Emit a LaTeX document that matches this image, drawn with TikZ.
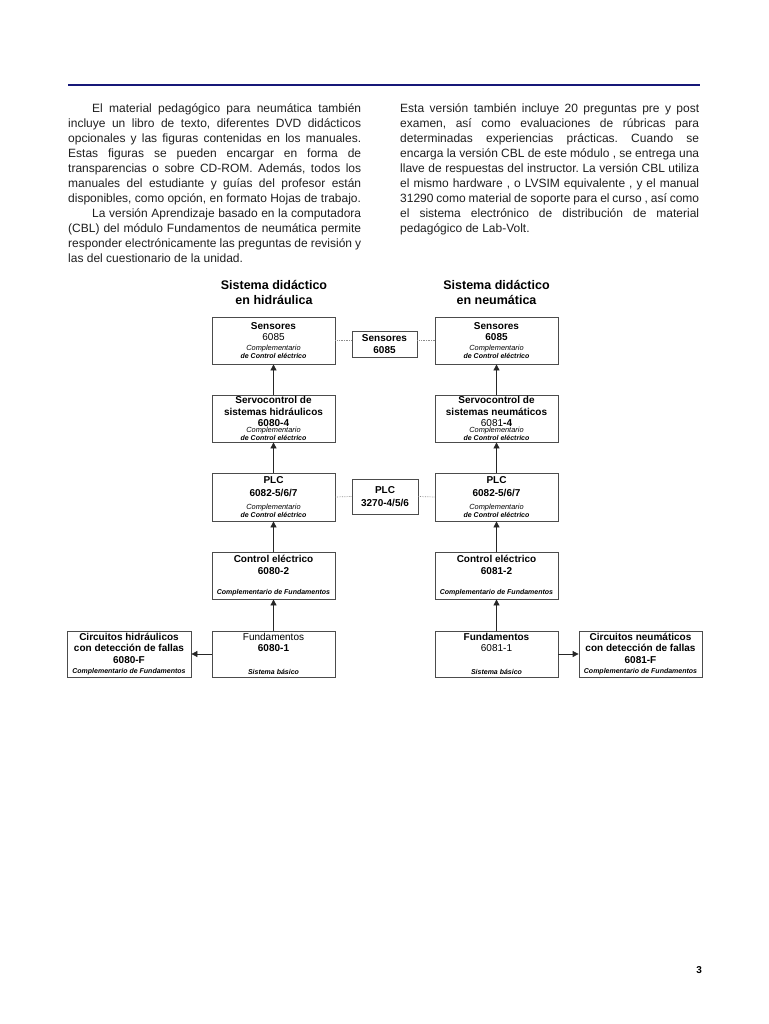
\documentclass[tikz,border=0pt]{standalone}
\usepackage{fontspec}
\setmainfont{Liberation Sans}
\usetikzlibrary{arrows.meta}
\definecolor{rulenavy}{RGB}{22,24,120}
\frenchspacing
\newcommand{\compl}{\fontsize{7.4}{8}\selectfont\mdseries\itshape}
\newcommand{\complb}{\fontsize{7}{8}\selectfont\bfseries\itshape}

\begin{document}
\begin{tikzpicture}[x=1pt, y=-1pt]
    \tikzstyle{box} = [draw=black!70, line width=0.8pt, inner sep=0pt, align=center, minimum width=123pt, minimum height=47pt, font=\fontsize{10}{11.5}\selectfont\bfseries]
    \tikzstyle{mid} = [box, minimum width=65pt, minimum height=26pt]
    \tikzstyle{title} = [anchor=north, inner sep=0pt, align=center, font=\fontsize{12.5}{15}\selectfont\bfseries]
    \tikzstyle{para} = [anchor=base west, inner sep=0pt, align=justify, text=black!88, font=\fontsize{12}{15}\selectfont\frenchspacing]
    \tikzstyle{up} = [draw=black!85, line width=0.8pt, -{Triangle[length=6pt, width=6pt]}]
    \tikzstyle{dots} = [draw=black!45, line width=0.7pt, densely dotted]

    \useasboundingbox (0,0) rectangle (768,1024);

    \coordinate (rl) at (68,85);
    \coordinate (rr) at (700,85);
    \draw [rulenavy, line width=1.6pt] (rl) -- (rr);

    \node (parl) [para, text width=293pt] at (68,113) {%
        \hspace*{24pt}El material pedagógico para neumática también\linebreak
        incluye un libro de texto, diferentes DVD didácticos\linebreak
        opcionales y las figuras contenidas en los manuales.\linebreak
        Estas figuras se pueden encargar en forma de\linebreak
        transparencias o sobre CD-ROM. Además, todos los\linebreak
        manuales del estudiante y guías del profesor están\linebreak
        disponibles, como opción, en formato Hojas de trabajo.\par
        \hspace*{24pt}La versión Aprendizaje basado en la computadora\linebreak
        (CBL) del módulo Fundamentos de neumática permite\linebreak
        responder electrónicamente las preguntas de revisión y\linebreak
        las del cuestionario de la unidad.};
    \node (parr) [para, text width=299pt] at (400,113) {%
        Esta versión también incluye 20 preguntas pre y post\linebreak
        examen, así como evaluaciones de rúbricas para\linebreak
        determinadas experiencias prácticas. Cuando se\linebreak
        encarga la versión CBL de este módulo , se entrega una\linebreak
        llave de respuestas del instructor. La versión CBL utiliza\linebreak
        el mismo hardware , o LVSIM equivalente , y el manual\linebreak
        31290 como material de soporte para el curso , así como\linebreak
        el sistema electrónico de distribución de material\linebreak
        pedagógico de Lab-Volt.};

    \node (titleh) [title] at (274,280) {Sistema didáctico\\en hidráulica};
    \node (titlen) [title] at (496.5,280) {Sistema didáctico\\en neumática};

    % hidraulica
    \node (sensh) [box] at (273.5,340.5) {Sensores\\{\mdseries 6085}\\[-1.5pt]{\compl Complementario}\\[-4pt]{\complb de Control eléctrico}};
    \node (servoh) [box] at (273.5,418.5) {Servocontrol de\\sistemas hidráulicos\\6080-4\\[-5.5pt]{\compl Complementario}\\[-4pt]{\complb de Control eléctrico}};
    \node (plch) [box, minimum height=48pt] at (273.5,497) {PLC\\[1.5pt]6082-5/6/7\\[1.5pt]{\compl Complementario}\\[-3.5pt]{\complb de Control eléctrico}};
    \node (ctrlh) [box] at (273.5,575.5) {Control eléctrico\\[0.5pt]6080-2\\[8.5pt]{\complb Complementario de Fundamentos}};
    \node (fundh) [box, minimum height=46pt] at (273.5,654) {{\mdseries Fundamentos}\\[-0.5pt]6080-1\\[11pt]{\complb Sistema básico}};
    \node (circh) [box, minimum width=124pt, minimum height=46pt] at (129,654) {Circuitos hidráulicos\\[-0.5pt]con detección de fallas\\[0.5pt]6080-F\\[-2pt]{\complb Complementario de Fundamentos}};

    % neumatica
    \node (sensn) [box] at (496.5,340.5) {Sensores\\6085\\[-1.5pt]{\compl Complementario}\\[-4pt]{\complb de Control eléctrico}};
    \node (servon) [box] at (496.5,418.5) {Servocontrol de\\sistemas neumáticos\\{\mdseries 6081}-4\\[-5.5pt]{\compl Complementario}\\[-4pt]{\complb de Control eléctrico}};
    \node (plcn) [box, minimum height=48pt] at (496.5,497) {PLC\\[1.5pt]6082-5/6/7\\[1.5pt]{\compl Complementario}\\[-3.5pt]{\complb de Control eléctrico}};
    \node (ctrln) [box] at (496.5,575.5) {Control eléctrico\\[0.5pt]6081-2\\[8.5pt]{\complb Complementario de Fundamentos}};
    \node (fundn) [box, minimum height=46pt] at (496.5,654) {Fundamentos\\[-0.5pt]{\mdseries 6081-1}\\[11pt]{\complb Sistema básico}};
    \node (circn) [box, minimum height=46pt] at (640.5,654) {Circuitos neumáticos\\[-0.5pt]con detección de fallas\\[0.5pt]6081-F\\[-2pt]{\complb Complementario de Fundamentos}};

    \node (sensm) [mid] at (384.5,344) {Sensores\\6085};
    \node (plcm) [mid, minimum width=66pt, minimum height=35pt] at (385,496.5) {PLC\\[1pt]3270-4/5/6};

    \draw [up] (servoh) -- (sensh);
    \draw [up] (plch) -- (servoh);
    \draw [up] (ctrlh) -- (plch);
    \draw [up] (fundh) -- (ctrlh);
    \draw [up] (fundh) -- (circh);
    \draw [up] (servon) -- (sensn);
    \draw [up] (plcn) -- (servon);
    \draw [up] (ctrln) -- (plcn);
    \draw [up] (fundn) -- (ctrln);
    \draw [up] (fundn) -- (circn);

    \draw [dots] (sensh.east) -- (sensh.east -| sensm.west);
    \draw [dots] (sensm.east |- sensn.west) -- (sensn.west);
    \draw [dots] (plch.east) -- (plcm.west);
    \draw [dots] (plcm.east) -- (plcn.west);

    \node (pg) [anchor=base east, inner sep=0pt, font=\fontsize{10}{12}\selectfont\bfseries] at (702,973) {3};

\end{tikzpicture}
\end{document}
